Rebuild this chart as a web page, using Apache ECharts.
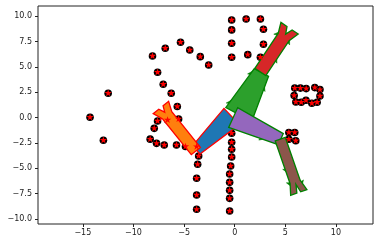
<!DOCTYPE html>
<html><head><meta charset="utf-8">
<script src="https://cdn.jsdelivr.net/npm/echarts@6/dist/echarts.min.js"></script>
<style>html,body{margin:0;padding:0;background:#fff}#c{width:380px;height:247px}</style>
</head><body><div id="c"></div>
<script>
// ---- tick labels ----
const xTicks = [-15, -10, -5, 0, 5, 10];
const yTicks = [-10, -7.5, -5, -2.5, 0, 2.5, 5, 7.5, 10];

// ---- point groups (x, y) ----
const isolatedPts = [[-14.29, 0.02], [-12.50, 2.39], [-12.97, -2.25]];
const leftCurvePts = [
  [-8.12, 6.07], [-6.86, 6.83], [-5.35, 7.42], [-4.44, 6.66], [-3.40, 6.00], [-2.57, 5.18],
  [-7.62, 4.46], [-7.06, 3.28], [-6.27, 2.39], [-5.67, 1.09], [-5.54, -0.15], [-7.62, -0.35],
  [-6.63, -0.25], [-7.95, -1.07], [-8.35, -2.14], [-7.72, -2.55], [-6.96, -2.71], [-5.75, -2.71],
  [-4.86, -2.86], [-3.76, -2.88]
];
const leftColumnPts = [[-3.56, -3.80], [-3.66, -4.62], [-3.76, -6.00], [-3.76, -7.65], [-3.76, -9.06]];
const topLoopPts = [
  [-0.30, 9.62], [1.13, 9.72], [2.54, 9.72], [-0.30, 8.64], [2.84, 8.71],
  [-0.30, 7.32], [2.84, 7.23], [-0.30, 5.94], [1.29, 6.20], [2.54, 5.94]
];
const centerColumnPts = [
  [-0.30, -1.56], [-0.30, -2.44], [-0.30, -3.13], [-0.30, -3.90], [-0.40, -4.79],
  [-0.50, -5.58], [-0.50, -6.40], [-0.50, -7.19], [-0.50, -7.98], [-0.50, -9.23]
];
const rightLoopPts = [
  [5.93, 2.90], [6.49, 2.90], [7.06, 2.85], [7.91, 2.95], [8.42, 2.75],
  [5.87, 2.17], [8.42, 2.12],
  [6.04, 1.53], [6.57, 1.51], [7.04, 1.70], [7.62, 1.41], [8.14, 1.51]
];
const lowerRightPts = [[5.35, -1.48], [5.93, -1.48], [5.35, -2.15], [6.03, -2.29]];

// ---- limbs (arrow-like shapes), drawn in this order ----
const limbFrom = [[-3.80, -3.20], [-3.84, -3.31], [0.40, 0.30], [2.53, 4.49], [-0.15, 0.00], [4.50, -2.14]];
const limbTo   = [[-0.30, 0.10], [-7.29, 0.99], [2.64, 4.44], [5.42, 8.81], [4.55, -2.14], [6.33, -7.40]];
const limbWidthFrom = [1.1, 1.15, 2.9, 1.3, 2.15, 1.05];
const limbWidthTo   = [2.2, 1.15, 1.6, 1.3, 1.2, 1.05];
const limbForkSpread = [0, 1.95, 0, 2.05, 0, 1.7];
const limbForkLength = [0, 1.0, 0, 1.05, 0, 1.1];
const limbNotch      = [0, 0.6, 0, 0.7, 0, 0.85];
const limbProng      = [0, 0.7, 0, 0.72, 0, 0.65];
// small barbs on edges: [limb, position along (0-1), side, size]
const limbBarbs = [
  [1, 0.92, -1, 0.6],
  [2, 0.22, -1, 0.7], [2, 0.80, 1, 0.6], [2, 0.97, -1, 0.7],
  [3, 0.40, 1, 0.5], [3, 0.86, -1, 0.7], [3, 0.84, 1, 0.6],
  [4, 0.72, 1, 0.55],
  [5, 0.60, 1, 0.5], [5, 0.88, 1, 0.7], [5, 0.93, -1, 0.7]
];

// ---- styles ----
const limbFill = ['#1f77b4', '#ff7f0e', '#2ca02c', '#d62728', '#9467bd', '#8c564b'];
const limbEdge = ['#ff0000', '#ff0000', '#008000', '#008000', '#008000', '#008000'];

const allPts = [].concat(isolatedPts, leftCurvePts, leftColumnPts, topLoopPts,
  centerColumnPts, rightLoopPts, lowerRightPts);
const limbData = limbFrom.map((p, i) => [p[0], p[1], limbTo[i][0], limbTo[i][1], i]);

// star symbol
let sp = [];
for (let i = 0; i < 10; i++) {
  const a = (-90 + 36 * i) * Math.PI / 180, r = i % 2 ? 0.381966 : 1;
  sp.push((i ? 'L' : 'M') + (r * Math.cos(a)).toFixed(4) + ' ' + (r * Math.sin(a)).toFixed(4));
}
const starPath = 'path://' + sp.join(' ') + ' Z';
const D = 7.6;

function fmt(v, digits) {
  const n = typeof v === 'number' ? v : parseFloat(v);
  return (n < 0 ? '\u2212' : '') + Math.abs(n).toFixed(digits);
}

const chart = echarts.init(document.getElementById('c'), null, {renderer: 'canvas'});
chart.setOption({
  backgroundColor: '#fff',
  animation: false,
  grid: {left: 38, right: 7, top: 6, bottom: 23, show: true, borderColor: '#222', borderWidth: 1, backgroundColor: 'transparent'},
  xAxis: {
    type: 'value', min: -19.43, max: 13.66,
    splitLine: {show: false},
    axisLine: {show: false, onZero: false},
    axisTick: {show: true, length: 3, lineStyle: {color: '#222'}, customValues: xTicks},
    axisLabel: {fontSize: 8, color: '#222', margin: 5, fontFamily: 'DejaVu Sans', customValues: xTicks,
      formatter: v => fmt(v, 0)}
  },
  yAxis: {
    type: 'value', min: -10.51, max: 11.0,
    splitLine: {show: false},
    axisLine: {show: false, onZero: false},
    axisTick: {show: true, length: 3, lineStyle: {color: '#222'}, customValues: yTicks},
    axisLabel: {show: true, fontSize: 8, color: '#222', margin: 6, fontFamily: 'DejaVu Sans', customValues: yTicks,
      formatter: v => fmt(v, 1)}
  },
  series: [
    {
      type: 'scatter', data: allPts, symbol: 'circle', symbolSize: D, z: 1,
      itemStyle: {color: '#000', opacity: 1}, silent: true
    },
    {
      type: 'custom', data: limbData, z: 2, silent: true,
      renderItem: function (params, api) {
        const i = api.value(4);
        const p0 = api.coord([api.value(0), api.value(1)]);
        const p1 = api.coord([api.value(2), api.value(3)]);
        const s = api.size([1, 1]);
        const k = (s[0] + s[1]) / 2;
        const dx = p1[0] - p0[0], dy = p1[1] - p0[1], L = Math.hypot(dx, dy);
        const u = [dx / L, dy / L], n = [-u[1], u[0]];
        const P = (b, a, c) => [b[0] + u[0] * a + n[0] * c, b[1] + u[1] * a + n[1] * c];
        const w0 = limbWidthFrom[i] * k / 2, w1 = limbWidthTo[i] * k / 2;
        let pts;
        if (limbForkSpread[i] > 0) {
          const F = limbForkLength[i] * k, S = limbForkSpread[i] * k / 2, Dn = limbNotch[i] * k, pw = limbProng[i] * k;
          pts = [P(p0, 0, w0), P(p1, -F, w1), P(p1, 0, S), P(p1, 0, S - pw), P(p1, -Dn, 0),
                 P(p1, 0, -(S - pw)), P(p1, 0, -S), P(p1, -F, -w1), P(p0, 0, -w0)];
        } else {
          pts = [P(p0, 0, w0), P(p1, 0, w1), P(p1, 0, -w1), P(p0, 0, -w0)];
        }
        const children = [];
        limbBarbs.filter(b => b[0] === i).forEach(b => {
          const t = b[1], side = b[2], h = b[3] * k;
          const hw = w0 + (w1 - w0) * t;
          const e = P(p0, t * L, side * hw);
          children.push({type: 'polygon', shape: {points: [
            P(e, 0, -side * 1), P(e, -h * 0.7, -side * 1), P(e, -h * 0.9, side * h * 0.45)]},
            style: {fill: limbEdge[i], stroke: limbEdge[i], lineWidth: 0.6}});
        });
        children.push({type: 'polygon', shape: {points: pts},
          style: {fill: limbFill[i], stroke: limbEdge[i], lineWidth: 1.3}});
        return {type: 'group', children: children};
      }
    },
    {
      type: 'scatter', data: allPts, symbol: starPath, symbolKeepAspect: false,
      symbolSize: [0.951 * D, 0.905 * D], symbolOffset: [0, -0.0955 * D / 2], z: 3,
      itemStyle: {color: '#ff0000', opacity: 1}, silent: true
    }
  ]
});
chart.getZr().flush();
</script>
</body></html>
